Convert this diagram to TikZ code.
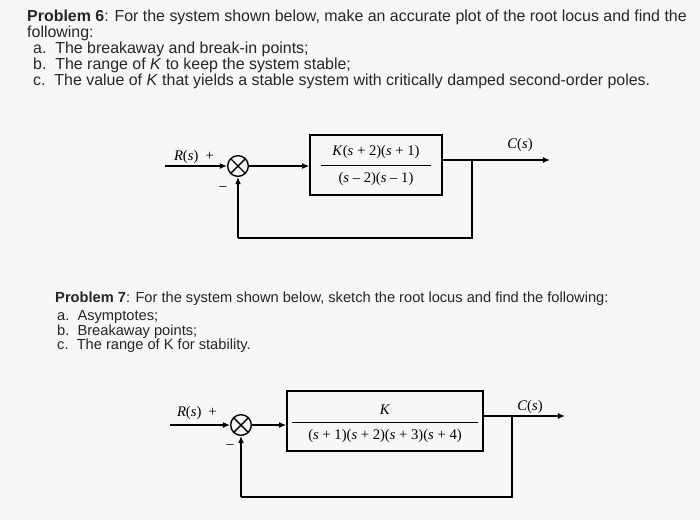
\documentclass[tikz,border=0pt]{standalone}
\usepackage{fontspec}
\setmainfont{Liberation Sans}
\newfontfamily\serf{Liberation Serif}
\usetikzlibrary{arrows.meta}
\newcommand{\vi}[1]{\textit{#1}}
\begin{document}
\begin{tikzpicture}[x=0.03cm,y=-0.03cm,
  txt/.style={anchor=west,inner sep=0pt,font=\fontsize{13.6}{15}\selectfont,text=black!85},
  txtb/.style={anchor=west,inner sep=0pt,font=\fontsize{12.5}{14}\selectfont,text=black!85},
  blk/.style={draw,line width=1.4pt,inner sep=0pt},
  sumj/.style={draw,circle,line width=1.2pt,minimum size=0.62cm,inner sep=0pt,path picture={\draw[line width=1.2pt] (path picture bounding box.south west)--(path picture bounding box.north east) (path picture bounding box.north west)--(path picture bounding box.south east);}},
  sig/.style={line width=1.1pt,-{Latex[length=6pt,width=5pt]}},
  wire/.style={line width=1.1pt},
  lab/.style={font=\serf\fontsize{12.5}{14}\selectfont,inner sep=0pt}]
\fill[black!3] (0,0) rectangle (700,520);
\node[txt] (p6) at (27,17) {\textbf{Problem 6}: For the system shown below, make an accurate plot of the root locus and find the};
\node[txt] (p6b) at (27,33) {following:};
\node[txt] (p6c) at (33,49) {a.\ \ The breakaway and break-in points;};
\node[txt] (p6d) at (33,65) {b.\ \ The range of \textit{K} to keep the system stable;};
\node[txt] (p6e) at (33,81) {c.\ \ The value of \textit{K} that yields a stable system with critically damped second-order poles.};
% diagram 1
\node[sumj] (s1) at (238,166) {};
\node[blk,minimum width=132*0.03cm,minimum height=60*0.03cm] (b1) at (376,165) {};
\node[lab] (n1) at (376,152) {\vi{K}(\vi{s} + 2)(\vi{s} + 1)};
\node[lab] (d1) at (376,179) {(\vi{s} \textendash{} 2)(\vi{s} \textendash{} 1)};
\draw[line width=0.7pt] (321,165)--(431,165);
\node[lab] (r1) at (194,157) {\vi{R}(\vi{s}) \ +};
\node[lab] (m1) at (223,189) {\textendash};
\node[lab] (c1) at (520,145) {\vi{C}(\vi{s})};
\coordinate (i1) at (165,166);
\coordinate (o1) at (550,160);
\coordinate (f1) at (472,160);
\coordinate (f1b) at (472,238);
\coordinate (f1c) at (238,238);
\draw[sig] (i1)--(s1);
\draw[sig] (s1)--(s1-|b1.west);
\draw[sig] (b1.east|-o1)--(o1);
\draw[wire] (f1)--(f1b)--(f1c);
\draw[sig] (f1c)--(s1);
% problem 7
\node[txtb] (p7) at (55,299) {\textbf{Problem 7}: For the system shown below, sketch the root locus and find the following:};
\node[txtb] (p7a) at (57,317) {a.\ \ Asymptotes;};
\node[txtb] (p7b) at (57,332) {b.\ \ Breakaway points;};
\node[txtb] (p7c) at (57,346) {c.\ \ The range of K for stability.};
% diagram 2
\node[sumj] (s2) at (241,425) {};
\node[blk,minimum width=196*0.03cm,minimum height=60*0.03cm] (b2) at (385,421) {};
\node[lab] (n2) at (385,410) {\vi{K}};
\node[lab] (d2) at (385,436) {(\vi{s} + 1)(\vi{s} + 2)(\vi{s} + 3)(\vi{s} + 4)};
\draw[line width=0.7pt] (292,422)--(478,422);
\node[lab] (r2) at (197,413) {\vi{R}(\vi{s}) \ +};
\node[lab] (m2) at (230,447) {\textendash};
\node[lab] (c2) at (530,407) {\vi{C}(\vi{s})};
\coordinate (i2) at (170,425);
\coordinate (o2) at (565,416);
\coordinate (f2) at (512,416);
\coordinate (f2b) at (512,497);
\coordinate (f2c) at (241,497);
\draw[sig] (i2)--(s2);
\draw[sig] (s2)--(s2-|b2.west);
\draw[sig] (b2.east|-o2)--(o2);
\draw[wire] (f2)--(f2b)--(f2c);
\draw[sig] (f2c)--(s2);
\end{tikzpicture}
\end{document}
